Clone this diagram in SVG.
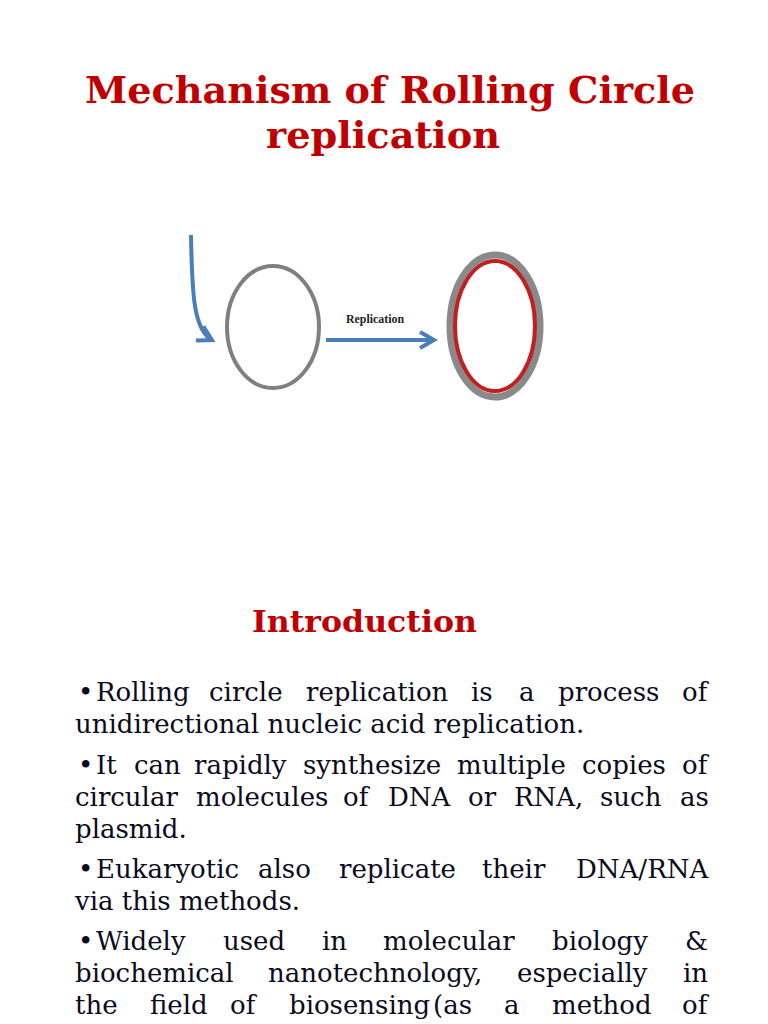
<svg xmlns="http://www.w3.org/2000/svg" width="768" height="1024" viewBox="0 0 768 1024">
<defs>
<style>
.t{font-family:"DejaVu Serif","Liberation Serif",serif;font-weight:bold;fill:#C00000}
.b{font-family:"DejaVu Serif","Liberation Serif",serif;font-size:26px;fill:#0a0a20}
</style>
<marker id="ah" viewBox="0 0 10 10" refX="8" refY="5" markerWidth="5" markerHeight="5" orient="auto" markerUnits="strokeWidth"><path d="M1,1 L8,5 L1,9" fill="none" stroke="#4A7EBB" stroke-width="2"/></marker>
</defs>
<rect width="768" height="1024" fill="#fff"/>
<text class="t" font-size="37" x="85" y="103" textLength="610" lengthAdjust="spacingAndGlyphs">Mechanism of Rolling Circle</text>
<text class="t" font-size="37" x="266" y="148" textLength="234" lengthAdjust="spacingAndGlyphs">replication</text>
<g id="circle1"><ellipse cx="273" cy="327" rx="46" ry="61" fill="none" stroke="#808080" stroke-width="4"/></g>
<g id="circle2"><ellipse cx="495" cy="326" rx="45" ry="71" fill="none" stroke="#8a8a8a" stroke-width="7"/><ellipse cx="495" cy="326" rx="40" ry="65" fill="none" stroke="#C02020" stroke-width="4"/></g>
<g id="connectors">
<path d="M191,235 C192,290 193,330 212,340" fill="none" stroke="#4A7EBB" stroke-width="4" marker-end="url(#ah)"/>
<line x1="326" y1="340" x2="434" y2="340" stroke="#4A7EBB" stroke-width="4" marker-end="url(#ah)"/>
</g>
<text x="346" y="323" font-family="Liberation Serif,serif" font-weight="bold" font-size="12" fill="#222" textLength="58" lengthAdjust="spacingAndGlyphs">Replication</text>
<text class="t" font-size="30" x="252" y="632" textLength="225" lengthAdjust="spacingAndGlyphs">Introduction</text>
<g class="b">
<text x="78" y="701">•</text>
<text y="701"><tspan x="96">Rolling</tspan><tspan x="209">circle</tspan><tspan x="306">replication</tspan><tspan x="471">is</tspan><tspan x="519">a</tspan><tspan x="558">process</tspan><tspan x="682">of</tspan></text>
<text x="75" y="733">unidirectional nucleic acid replication.</text>
<text x="78" y="774">•</text>
<text y="774"><tspan x="96">It</tspan><tspan x="134">can</tspan><tspan x="194">rapidly</tspan><tspan x="303">synthesize</tspan><tspan x="457">multiple</tspan><tspan x="582">copies</tspan><tspan x="682">of</tspan></text>
<text y="806"><tspan x="75">circular</tspan><tspan x="196">molecules</tspan><tspan x="343">of</tspan><tspan x="388">DNA</tspan><tspan x="468">or</tspan><tspan x="514">RNA,</tspan><tspan x="600">such</tspan><tspan x="680">as</tspan></text>
<text x="75" y="838">plasmid.</text>
<text x="78" y="878">•</text>
<text y="878"><tspan x="96">Eukaryotic</tspan><tspan x="258">also</tspan><tspan x="339">replicate</tspan><tspan x="482">their</tspan><tspan x="576">DNA/RNA</tspan></text>
<text x="75" y="910">via this methods.</text>
<text x="78" y="950">•</text>
<text y="950"><tspan x="96">Widely</tspan><tspan x="223">used</tspan><tspan x="322">in</tspan><tspan x="383">molecular</tspan><tspan x="552">biology</tspan><tspan x="685">&amp;</tspan></text>
<text y="982"><tspan x="75">biochemical</tspan><tspan x="268">nanotechnology,</tspan><tspan x="517">especially</tspan><tspan x="683">in</tspan></text>
<text y="1014"><tspan x="75">the</tspan><tspan x="150">field</tspan><tspan x="230">of</tspan><tspan x="289">biosensing</tspan><tspan x="433">(as</tspan><tspan x="504">a</tspan><tspan x="552">method</tspan><tspan x="682">of</tspan></text>
</g>
</svg>
